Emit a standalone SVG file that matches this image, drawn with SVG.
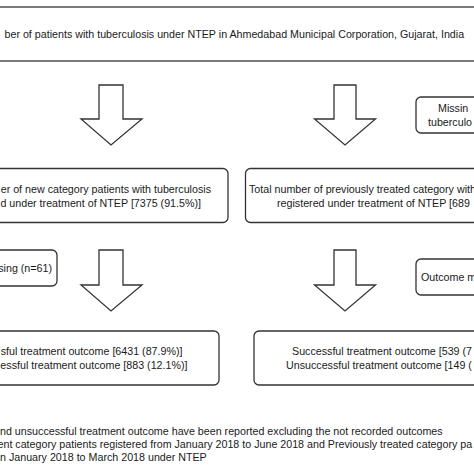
<svg xmlns="http://www.w3.org/2000/svg" width="474" height="474" viewBox="0 0 474 474">
<style>
.box{fill:#fff;stroke:#333;stroke-width:1.3}
.arr{fill:#fff;stroke:#333;stroke-width:1.3;stroke-linejoin:miter}
text{font-family:"Liberation Sans",Arial,sans-serif;font-size:10.7px;fill:#1a1a1a}
.e{text-anchor:end}
</style>
<rect width="474" height="474" fill="#fff"/>
<g id="total">
<rect class="box" x="-10" y="7" width="494" height="54"/>
<text x="4.5" y="37.5">ber of patients with tuberculosis under NTEP in Ahmedabad Municipal Corporation, Gujarat, India</text>
</g>
<g id="new-category">
<rect class="box" x="-10" y="168.5" width="238" height="54" rx="5"/>
<text class="e" x="211" y="193">er of new category patients with tuberculosis</text>
<text class="e" x="201" y="206.5">d under treatment of NTEP [7375 (91.5%)]</text>
</g>
<g id="previously-treated">
<rect class="box" x="245.5" y="168.5" width="240" height="54" rx="5"/>
<text x="249" y="193">Total number of previously treated category with</text>
<text x="277" y="206.5">registered under treatment of NTEP [689</text>
</g>
<g id="missing-category">
<rect class="box" x="416" y="97" width="70" height="36" rx="5"/>
<text x="438" y="112">Missin</text>
<text x="428" y="126">tuberculo</text>
</g>
<g id="missing-61">
<rect class="box" x="-10" y="250" width="67" height="36" rx="5"/>
<text class="e" x="52" y="272">sing (n=61)</text>
</g>
<g id="outcome-missing">
<rect class="box" x="416" y="259" width="70" height="36" rx="5"/>
<text x="421" y="281">Outcome m</text>
</g>
<g id="new-outcome">
<rect class="box" x="-10" y="331" width="229" height="54" rx="5"/>
<text class="e" x="182.5" y="355">sful treatment outcome [6431 (87.9%)]</text>
<text class="e" x="187.5" y="369">essful treatment outcome [883 (12.1%)]</text>
</g>
<g id="prev-outcome">
<rect class="box" x="254" y="331" width="232" height="54" rx="5"/>
<text x="292" y="355">Successful treatment outcome [539 (7</text>
<text x="286" y="369">Unsuccessful treatment outcome [149 (</text>
</g>
<g id="connectors">
<polygon class="arr" points="99,85 123,85 123,119 142,119 111,145 81,119 99,119"/>
<polygon class="arr" points="334,85 356,85 356,119 375.5,119 345,145 314.5,119 334,119"/>
<polygon class="arr" points="99,250 123,250 123,285 142,285 111,311 81,285 99,285"/>
<polygon class="arr" points="334,250 356,250 356,285 375.5,285 345,311 314.5,285 334,285"/>
</g>
<g id="footnote">
<text x="0" y="435">nd unsuccessful treatment outcome have been reported excluding the not recorded outcomes</text>
<text x="-2.5" y="447.5">ent category patients registered from January 2018 to June 2018 and Previously treated category pa</text>
<text x="0" y="461">n January 2018 to March 2018 under NTEP</text>
</g>
</svg>
